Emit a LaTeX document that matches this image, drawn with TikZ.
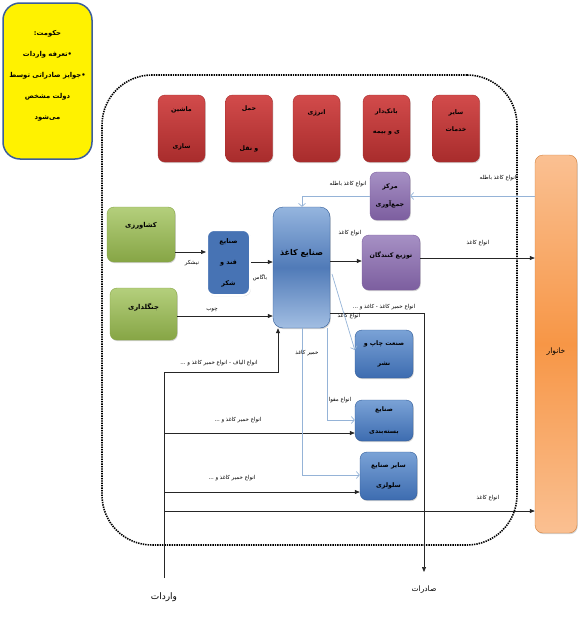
\documentclass[tikz,border=0pt]{standalone}
\usepackage{fontspec}
\TeXXeTstate=1
\newfontfamily\fafont[Script=Arabic]{DejaVu Sans}
\usetikzlibrary{arrows.meta,shadows,calc}
\newcommand{\FA}[1]{\beginR#1\endR}
\definecolor{govblue}{HTML}{3B5E9C}
\definecolor{redT}{HTML}{D24B4B}
\definecolor{redB}{HTML}{A82C2C}
\definecolor{grnT}{HTML}{B4CF7C}
\definecolor{grnB}{HTML}{86A545}
\definecolor{bluT}{HTML}{7AA2D6}
\definecolor{bluB}{HTML}{3D6CB0}
\definecolor{bluD}{HTML}{2F5B98}
\definecolor{purT}{HTML}{A690C4}
\definecolor{purB}{HTML}{7C5E9F}
\definecolor{orgM}{HTML}{F79646}
\definecolor{orgL}{HTML}{FAC092}
\definecolor{lblue}{HTML}{95B3D7}
\definecolor{lineblk}{HTML}{262626}
\begin{document}
\begin{tikzpicture}[x=1pt,y=-1pt,
  box/.style={rounded corners=7pt, inner sep=1pt, align=center,
    font=\fafont\bfseries\fontsize{6.3}{9}\selectfont,
    drop shadow={opacity=0.35, shadow xshift=0.8pt, shadow yshift=-1.2pt}},
  redbox/.style={box, top color=redT, bottom color=redB, draw=redB,
    minimum width=47pt, minimum height=67pt},
  grnbox/.style={box, top color=grnT, bottom color=grnB, draw=grnB,
    font=\fafont\bfseries\fontsize{6.8}{9}\selectfont},
  blubox/.style={box, top color=bluT, bottom color=bluB, draw=bluD},
  purbox/.style={box, top color=purT, bottom color=purB, draw=purB},
  blk/.style={draw=lineblk, line width=0.7pt, -{Triangle[length=5pt,width=4pt]}},
  lb/.style={draw=lblue, line width=0.7pt, -{Straight Barb[length=3pt,width=7pt]}},
  lbl/.style={font=\fafont\fontsize{5.5}{7}\selectfont, inner sep=0.5pt},
  bnd/.style={draw=black, line width=1.6pt, dash pattern=on 1.4pt off 1pt,
    rounded corners=50pt}
]
\useasboundingbox (0,0) rectangle (580,624);

% government box
\node[rounded corners=17pt, fill=yellow, draw=govblue, line width=1.5pt,
  minimum width=89pt, minimum height=156pt, align=center,
  font=\fafont\bfseries\fontsize{6.8}{21}\selectfont] (gov) at (47.5,81)
  {\FA{حکومت:}\\\FA{•تعرفه واردات}\\\FA{•جوایز صادراتی توسط}\\\FA{دولت مشخص}\\\FA{می‌شود}\\[-8pt]~};

% dotted boundary
\node[bnd, minimum width=415pt, minimum height=470pt] (frame) at (309.5,310) {};

% red service boxes
\node[redbox] (r1) at (181.5,128.5) {\FA{ماشین}\\[28pt]\FA{سازی}};
\node[redbox] (r2) at (249,128.5) {\FA{حمل}\\[31pt]\FA{و نقل}};
\node[redbox] (r3) at (316.5,128.5) {\FA{انرژی}\\[24pt]~};
\node[redbox] (r4) at (386.5,128.5) {\FA{بانک‌دار}\\[11pt]\FA{ی و بیمه}\\[6pt]~};
\node[redbox] (r5) at (456,128.5) {\FA{سایر}\\[8pt]\FA{خدمات}\\[6pt]~};

% green boxes
\node[grnbox, minimum width=68pt, minimum height=55pt] (kesh) at (141,234.5) {\FA{کشاورزی}\\[10pt]~};
\node[grnbox, minimum width=67pt, minimum height=52pt] (jang) at (143.5,314) {\FA{جنگلداری}\\[7pt]~};

% sugar industry
\node[box, fill=bluB!95, draw=white, line width=2pt, minimum width=43pt, minimum height=65pt,
  font=\fafont\bfseries\fontsize{6.5}{21}\selectfont] (qand) at (228.5,262.5)
  {\FA{صنایع}\\\FA{قند و}\\\FA{شکر}};

% paper industry
\node[box, rounded corners=10pt, top color=bluT!80!white, bottom color=bluT!70!white,
  middle color=bluB!90!white, draw=bluD, minimum width=57pt, minimum height=121pt,
  font=\fafont\bfseries\fontsize{8}{11}\selectfont] (kagh) at (301.5,267.5)
  {\FA{صنایع کاغذ}\\[20pt]~};

% purple boxes
\node[purbox, minimum width=40pt, minimum height=48pt, font=\fafont\bfseries\fontsize{6.3}{18}\selectfont]
  (mark) at (390,196) {\FA{مرکز}\\\FA{جمع‌آوری}};
\node[purbox, minimum width=58pt, minimum height=55pt] (tozi) at (391,262.5)
  {\FA{توزیع کنندگان}\\[6pt]~};

% downstream industries
\node[blubox, minimum width=58pt, minimum height=48pt, font=\fafont\bfseries\fontsize{6.3}{20}\selectfont]
  (chap) at (384,354) {\FA{صنعت چاپ و}\\\FA{نشر}};
\node[blubox, minimum width=58pt, minimum height=41pt, font=\fafont\bfseries\fontsize{6.3}{22}\selectfont]
  (bast) at (384,420.5) {\FA{صنایع}\\\FA{بسته‌بندی}};
\node[blubox, minimum width=57pt, minimum height=48pt, font=\fafont\bfseries\fontsize{6.3}{20}\selectfont]
  (sayr) at (388.5,476) {\FA{سایر صنایع}\\\FA{سلولزی}};

% households
\node[box, rounded corners=8pt, top color=orgL, bottom color=orgL, middle color=orgM,
  draw=orgM!85!black, minimum width=42pt, minimum height=378pt,
  font=\fafont\fontsize{7.5}{9}\selectfont] (khan) at (556,344) {~\\[11pt]\FA{خانوار}};

% export / import ends
\coordinate (expE) at (424,572);
\node[font=\fafont\fontsize{7.5}{9}\selectfont] (exptx) at (424,590) {\FA{صادرات}};
\coordinate (impS) at (164,578);
\node[font=\fafont\fontsize{9}{11}\selectfont] (imptx) at (164,597) {\FA{واردات}};

% black flows
\draw[blk] (kesh.east |- 0,252) -- (qand.west |- 0,252);
\node[lbl] (l1) at (192,263) {\FA{نیشکر}};
\draw[blk] (qand.east |- 0,262) -- (kagh.west |- 0,262);
\node[lbl] (l2) at (260,278) {\FA{باگاس}};
\draw[blk] (jang.east |- 0,316) -- (kagh.west |- 0,316);
\node[lbl] (l3) at (212,310) {\FA{چوب}};
\draw[blk] (kagh.east |- 0,261) -- (tozi.west |- 0,261);
\node[lbl] (l4) at (350,233) {\FA{انواع کاغذ}};
\draw[blk] (tozi.east |- 0,258) -- (khan.west |- 0,258);
\node[lbl] (l5) at (478,243) {\FA{انواع کاغذ}};

\draw[blk] (kagh.east |- 0,313) -- (424,313) -- (expE);
\node[lbl] (l6) at (384,307) {\FA{انواع خمیر کاغذ - کاغذ و ...}};
\node[lbl] (l7) at (349,316) {\FA{انواع کاغذ}};

\draw[draw=lineblk, line width=0.7pt] (impS) -- (164,372);
\draw[blk] (164,372) -- (278,372) -- (278,0 |- kagh.south);
\node[lbl] (l8) at (219,363) {\FA{انواع الیاف - انواع خمیر کاغذ و ...}};
\draw[blk] (164,433) -- (bast.west |- 0,433);
\node[lbl] (l9) at (238,420) {\FA{انواع خمیر کاغذ و ...}};
\draw[blk] (164,492) -- (sayr.west |- 0,492);
\node[lbl] (l10) at (232,478) {\FA{انواع خمیر کاغذ و ...}};
\draw[blk] (164,511) -- (khan.west |- 0,511);
\node[lbl] (l11) at (488,498) {\FA{انواع کاغذ}};

% light blue flows
\draw[lb] (khan.west |- 0,196) -- (mark.east);
\node[lbl] (l12) at (498,178) {\FA{انواع کاغذ باطله}};
\draw[lb] (mark.west) -- (302,196) -- (302,0 |- kagh.north);
\node[lbl] (l13) at (348,184) {\FA{انواع کاغذ باطله}};
\draw[lb] (332,274) -- ($(chap.west)+(0,-4)$);
\draw[lb] (302,0 |- kagh.south) -- (302,475) -- (sayr.west |- 0,475);
\node[lbl] (l14) at (307,353) {\FA{خمیر کاغذ}};
\draw[lb] (327,0 |- kagh.south) -- (327,420) -- (bast.west |- 0,420);
\node[lbl] (l15) at (340,400) {\FA{انواع مقوا}};
\end{tikzpicture}
\end{document}
